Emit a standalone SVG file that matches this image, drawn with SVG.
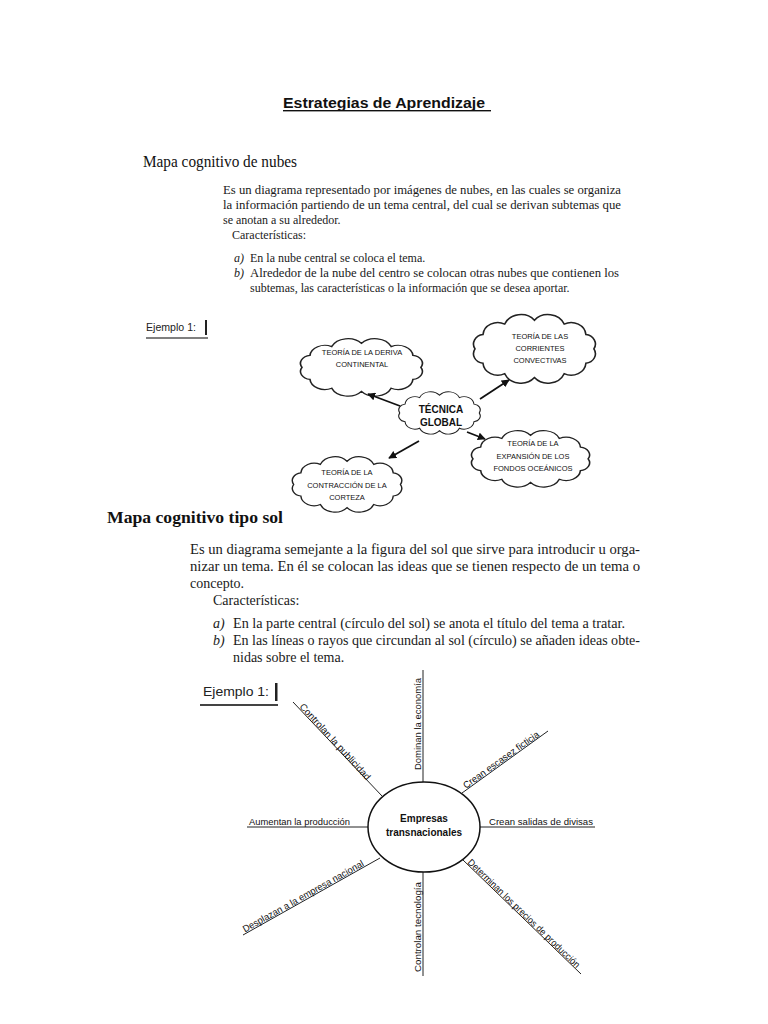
<svg xmlns="http://www.w3.org/2000/svg" width="768" height="1024" viewBox="0 0 768 1024">
<style>
.title{font-family:"Liberation Sans",Arial,sans-serif;font-weight:bold;font-size:14px;fill:#111}
.head{font-family:"Liberation Serif","Times New Roman",serif;font-size:16px;fill:#111}
.p1{font-family:"Liberation Serif","Times New Roman",serif;font-size:12px;fill:#1a1a1a}
.p2{font-family:"Liberation Serif","Times New Roman",serif;font-size:14px;fill:#1a1a1a}
.it{font-style:italic}
.ej{font-family:"Liberation Sans",Arial,sans-serif;fill:#222}
.cl{font-family:"Liberation Sans",Arial,sans-serif;font-size:7.5px;fill:#111;text-anchor:middle}
.clb{font-family:"Liberation Sans",Arial,sans-serif;font-size:10px;font-weight:bold;fill:#111;text-anchor:middle}
.cloud{fill:#fff;stroke:#222;stroke-width:1.2;vector-effect:non-scaling-stroke}
.arr{stroke:#111;stroke-width:1.8;fill:none;marker-end:url(#ah)}
.ray{stroke:#222;stroke-width:1;fill:none}
.rl{font-family:"Liberation Sans",Arial,sans-serif;font-size:9.5px;fill:#111}
.sunb{font-family:"Liberation Sans",Arial,sans-serif;font-size:10px;font-weight:bold;fill:#111;text-anchor:middle}
</style>
<defs>
<path id="cloudshape" d="M94,30 A8,8 0 0 1 88.1,42 A11,11 0 0 1 72,50.8 A13,13 0 0 1 50,54 A13,13 0 0 1 28,50.8 A11,11 0 0 1 11.9,42 A8,8 0 0 1 6,30 A8,8 0 0 1 11.9,18 A11,11 0 0 1 28,9.2 A13,13 0 0 1 50,6 A13,13 0 0 1 72,9.2 A11,11 0 0 1 88.1,18 A8,8 0 0 1 94,30 Z"/>
<marker id="ah" viewBox="0 0 10 10" refX="9" refY="5" markerWidth="8" markerHeight="8" markerUnits="userSpaceOnUse" orient="auto">
<path d="M0,0 L10,5 L0,10 Z" fill="#111"/>
</marker>
</defs>
<rect width="768" height="1024" fill="#fff"/>

<!-- Title -->
<text class="title" x="283" y="108" textLength="202" lengthAdjust="spacingAndGlyphs">Estrategias de Aprendizaje</text>
<rect x="283" y="110" width="208" height="1.4" fill="#111"/>

<!-- Section 1 -->
<text class="head" x="143" y="167" textLength="154" lengthAdjust="spacingAndGlyphs">Mapa cognitivo de nubes</text>
<text class="p1" x="223" y="194" textLength="398" lengthAdjust="spacingAndGlyphs">Es un diagrama representado por imágenes de nubes, en las cuales se organiza</text>
<text class="p1" x="223" y="209" textLength="398" lengthAdjust="spacingAndGlyphs">la información partiendo de un tema central, del cual se derivan subtemas que</text>
<text class="p1" x="223" y="224">se anotan a su alrededor.</text>
<text class="p1" x="232" y="239">Características:</text>
<text class="p1 it" x="234" y="262">a)</text>
<text class="p1" x="250" y="262">En la nube central se coloca el tema.</text>
<text class="p1 it" x="234" y="277">b)</text>
<text class="p1" x="250" y="277" textLength="369" lengthAdjust="spacingAndGlyphs">Alrededor de la nube del centro se colocan otras nubes que contienen los</text>
<text class="p1" x="250" y="292">subtemas, las características o la información que se desea aportar.</text>

<g id="ejemplo1a">
<text class="ej" x="146" y="331" font-size="11" textLength="50" lengthAdjust="spacingAndGlyphs">Ejemplo 1:</text>
<rect x="205" y="320" width="2" height="15" fill="#222"/>
<line x1="146" y1="338" x2="208" y2="338" stroke="#555" stroke-width="1.5"/>
</g>

<g id="cloud-deriva">
<use href="#cloudshape" class="cloud" transform="translate(293.9,337.4) scale(1.351,1.0)"/>
<text class="cl" x="362" y="355">TEORÍA DE LA DERIVA</text>
<text class="cl" x="362" y="367">CONTINENTAL</text>
</g>
<g id="cloud-corrientes">
<use href="#cloudshape" class="cloud" transform="translate(466.9,313.1) scale(1.351,1.193)"/>
<text class="cl" x="540" y="339">TEORÍA DE LAS</text>
<text class="cl" x="540" y="351">CORRIENTES</text>
<text class="cl" x="540" y="363">CONVECTIVAS</text>
</g>
<g id="cloud-tecnica">
<use href="#cloudshape" class="cloud" transform="translate(394.3,390.8) scale(0.904,0.737)"/>
<text class="clb" x="441" y="413">TÉCNICA</text>
<text class="clb" x="441" y="426">GLOBAL</text>
</g>
<g id="cloud-expansion">
<use href="#cloudshape" class="cloud" transform="translate(465.1,429.4) scale(1.309,0.982)"/>
<text class="cl" x="533" y="446">TEORÍA DE LA</text>
<text class="cl" x="533" y="459">EXPANSIÓN DE LOS</text>
<text class="cl" x="533" y="471">FONDOS OCEÁNICOS</text>
</g>
<g id="cloud-contraccion">
<use href="#cloudshape" class="cloud" transform="translate(286.4,455.5) scale(1.213,0.965)"/>
<text class="cl" x="347" y="475">TEORÍA DE LA</text>
<text class="cl" x="347" y="488">CONTRACCIÓN DE LA</text>
<text class="cl" x="347" y="500">CORTEZA</text>
</g>

<!-- Cloud map connectors (drawn on top) -->
<g id="connectors-clouds">
<line class="arr" x1="400" y1="406" x2="368" y2="394"/>
<line class="arr" x1="480" y1="399" x2="509" y2="380"/>
<line class="arr" x1="467" y1="432" x2="485" y2="439"/>
<line class="arr" x1="419" y1="441" x2="389" y2="458"/>
</g>

<!-- Section 2 -->
<text class="head" x="107" y="523" font-weight="bold" textLength="176" lengthAdjust="spacingAndGlyphs">Mapa cognitivo tipo sol</text>
<text class="p2" x="190" y="554" textLength="450" lengthAdjust="spacingAndGlyphs">Es un diagrama semejante a la figura del sol que sirve para introducir u orga-</text>
<text class="p2" x="190" y="571" textLength="450" lengthAdjust="spacingAndGlyphs">nizar un tema. En él se colocan las ideas que se tienen respecto de un tema o</text>
<text class="p2" x="190" y="588">concepto.</text>
<text class="p2" x="213" y="605">Características:</text>
<text class="p2 it" x="213" y="628">a)</text>
<text class="p2" x="233" y="628" textLength="392" lengthAdjust="spacingAndGlyphs">En la parte central (círculo del sol) se anota el título del tema a tratar.</text>
<text class="p2 it" x="213" y="645">b)</text>
<text class="p2" x="233" y="645" textLength="407" lengthAdjust="spacingAndGlyphs">En las líneas o rayos que circundan al sol (círculo) se añaden ideas obte-</text>
<text class="p2" x="233" y="662">nidas sobre el tema.</text>

<g id="ejemplo1b">
<text class="ej" x="203" y="696" font-size="13" textLength="66" lengthAdjust="spacingAndGlyphs">Ejemplo 1:</text>
<rect x="275" y="683" width="2.5" height="18" fill="#222"/>
<line x1="200" y1="705" x2="278" y2="705" stroke="#444" stroke-width="2"/>
</g>

<!-- Sun map rays -->
<g id="connectors-sun">
<line class="ray" x1="423" y1="670" x2="423" y2="782"/>
<line class="ray" x1="293" y1="702" x2="382" y2="796"/>
<line class="ray" x1="462" y1="793" x2="548" y2="731"/>
<line class="ray" x1="480" y1="827" x2="595" y2="827"/>
<line class="ray" x1="247" y1="827" x2="368" y2="827"/>
<line class="ray" x1="380" y1="858" x2="243" y2="935"/>
<line class="ray" x1="423" y1="872" x2="423" y2="976"/>
<line class="ray" x1="463" y1="860" x2="581" y2="974"/>
</g>

<g id="sun-center">
<ellipse cx="424" cy="827" rx="56" ry="45" fill="#fff" stroke="#111" stroke-width="1.5"/>
<text class="sunb" x="424" y="822">Empresas</text>
<text class="sunb" x="424" y="836">transnacionales</text>
</g>

<g id="sun-labels">
<text class="rl" transform="translate(421,770) rotate(-90)" textLength="92" lengthAdjust="spacingAndGlyphs">Dominan la economía</text>
<text class="rl" transform="translate(299,707) rotate(47.5)" textLength="100" lengthAdjust="spacingAndGlyphs">Controlan la publicidad</text>
<text class="rl" transform="translate(466,789) rotate(-35.7)" textLength="91" lengthAdjust="spacingAndGlyphs">Crean escasez ficticia</text>
<text class="rl" x="489" y="825" textLength="104" lengthAdjust="spacingAndGlyphs">Crean salidas de divisas</text>
<text class="rl" x="249" y="825" textLength="101" lengthAdjust="spacingAndGlyphs">Aumentan la producción</text>
<text class="rl" transform="translate(245,932.6) rotate(-29.3)" textLength="137" lengthAdjust="spacingAndGlyphs">Desplazan a la empresa nacional</text>
<text class="rl" transform="translate(421,972) rotate(-90)" textLength="90" lengthAdjust="spacingAndGlyphs">Controlan tecnología</text>
<text class="rl" transform="translate(467,863) rotate(44)" textLength="152" lengthAdjust="spacingAndGlyphs">Determinan los precios de producción</text>
</g>
</svg>
